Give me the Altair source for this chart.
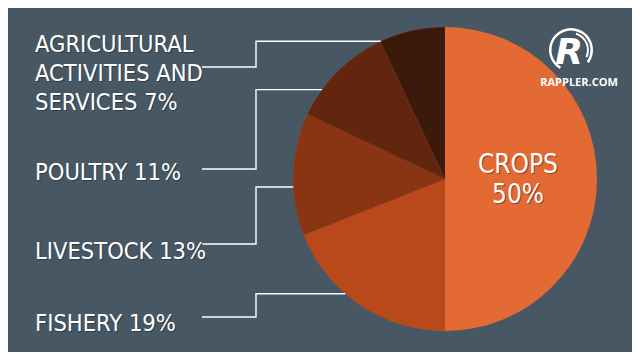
import math
import altair as alt
import pandas as pd

# ---- data ----
categories = ["CROPS", "FISHERY", "LIVESTOCK", "POULTRY", "AGRICULTURAL ACTIVITIES AND SERVICES"]
shares = [50, 19, 13, 11, 7]
slice_colors = ["#e46a34", "#b9491b", "#893412", "#62260e", "#3b1a0c"]

# label text lines (left side, top to bottom)
label_cats = ["AGRICULTURAL ACTIVITIES AND SERVICES", "POULTRY", "LIVESTOCK", "FISHERY"]
label_wrap = {"AGRICULTURAL ACTIVITIES AND SERVICES": ["AGRICULTURAL", "ACTIVITIES AND", "SERVICES"]}

# ---- layout (pixels on the page) ----
BG = "#475764"
SHADOW = "#3c4955"
CX, CY, R = 445, 179, 152
FONT = "Liberation Sans Narrow, DejaVu Sans Condensed, Roboto Condensed, Open Sans, sans-serif"
LABEL_SIZE = 23.5
label_baseline = [52, 180, 259, 331]
label_line_gap = 29
label_x = 35
line_start_x, line_elbow_x = 202, 256
line_y_at_label = [67, 169, 244, 317]
line_end_angle = [335, 306, 267, 221]   # degrees clockwise from 12 o'clock

xs = alt.Scale(domain=[8, 632], nice=False, zero=False)
ys = alt.Scale(domain=[8, 352], nice=False, zero=False, reverse=True)
X = lambda f: alt.X(f, scale=xs, axis=None)
Y = lambda f: alt.Y(f, scale=ys, axis=None)

share_of = dict(zip(categories, shares))

# pie table
pie_df = pd.DataFrame({
    "cat": categories, "share": shares, "idx": list(range(len(categories))),
    "x": [CX] * len(categories), "y": [CY] * len(categories),
})

shadow = alt.Chart(pd.DataFrame({"x": [CX - 7], "y": [CY + 4]})).mark_circle(
    size=math.pi * R * R, color=SHADOW, opacity=1
).encode(x=X("x:Q"), y=Y("y:Q"))

pie = alt.Chart(pie_df).mark_arc(radius=R, stroke="#c4622f", strokeWidth=0.3, strokeOpacity=0.4).encode(
    x=X("x:Q"), y=Y("y:Q"),
    theta=alt.Theta("share:Q", stack=True),
    order=alt.Order("idx:Q"),
    color=alt.Color("cat:N", scale=alt.Scale(domain=categories, range=slice_colors), legend=None),
)

# labels
rows = []
for i, cat in enumerate(label_cats):
    parts = list(label_wrap.get(cat, [cat]))
    parts[-1] = f"{parts[-1]} {share_of[cat]}%"
    for j, p in enumerate(parts):
        rows.append({"t": p, "x": label_x, "y": label_baseline[i] + j * label_line_gap})
lab_df = pd.DataFrame(rows)

lab_shadow = alt.Chart(lab_df).mark_text(
    align="left", baseline="alphabetic", font=FONT, fontSize=LABEL_SIZE, color="#222a30", opacity=0.6, dx=1, dy=1
).encode(x=X("x:Q"), y=Y("y:Q"), text="t:N")
labels = alt.Chart(lab_df).mark_text(
    align="left", baseline="alphabetic", font=FONT, fontSize=LABEL_SIZE, color="#ffffff"
).encode(x=X("x:Q"), y=Y("y:Q"), text="t:N")

# leader lines
pts = []
for i, cat in enumerate(label_cats):
    a = math.radians(line_end_angle[i])
    ex, ey = CX + R * math.sin(a), CY - R * math.cos(a)
    for k, (px, py) in enumerate([(line_start_x, line_y_at_label[i]), (line_elbow_x, line_y_at_label[i]),
                                  (line_elbow_x, ey), (ex, ey)]):
        pts.append({"id": i, "k": k, "x": px, "y": py})
lines = alt.Chart(pd.DataFrame(pts)).mark_line(color="#ffffff", strokeWidth=1.4).encode(
    x=X("x:Q"), y=Y("y:Q"), detail="id:N", order="k:Q"
)

# crops label inside the pie
crops_df = pd.DataFrame({"t": ["CROPS", f"{share_of['CROPS']}%"], "x": [518, 518], "y": [173, 203]})
crops_sh = alt.Chart(crops_df).mark_text(
    align="center", baseline="alphabetic", font=FONT, fontSize=26, color="#5a2a12", opacity=0.6, dx=1, dy=1
).encode(x=X("x:Q"), y=Y("y:Q"), text="t:N")
crops_lab = alt.Chart(crops_df).mark_text(
    align="center", baseline="alphabetic", font=FONT, fontSize=26, color="#ffffff"
).encode(x=X("x:Q"), y=Y("y:Q"), text="t:N")

# logo
logo_df = pd.DataFrame({"x": [571], "y": [50]})
logo_ring = alt.Chart(logo_df).mark_arc(
    radius=22, radius2=19.5, theta=3.68, theta2=8.48, color="#ffffff"
).encode(x=X("x:Q"), y=Y("y:Q"))
logo_ring2 = alt.Chart(logo_df).mark_arc(
    radius=18, radius2=16, theta=0.3, theta2=2.0, color="#ffffff"
).encode(x=X("x:Q"), y=Y("y:Q"))
logo_r = alt.Chart(pd.DataFrame({"t": ["R"], "x": [569], "y": [64]})).mark_text(
    align="center", baseline="alphabetic", font="DejaVu Sans", fontWeight="bold", fontStyle="italic",
    fontSize=36, color="#ffffff"
).encode(x=X("x:Q"), y=Y("y:Q"), text="t:N")
logo_txt = alt.Chart(pd.DataFrame({"t": ["RAPPLER.COM"], "x": [579], "y": [86]})).mark_text(
    align="center", baseline="alphabetic", font="Open Sans", fontWeight="bold", fontSize=11, color="#ffffff"
).encode(x=X("x:Q"), y=Y("y:Q"), text="t:N")

chart = alt.layer(
    shadow, pie, lines, lab_shadow, labels, crops_sh, crops_lab, logo_ring, logo_ring2, logo_r, logo_txt
).properties(
    width=624, height=344, padding=0, autosize=alt.AutoSizeParams(type="none"), background=BG
).configure_view(stroke=None)

chart.save("out.html", embed_options={"renderer": "svg", "actions": False})
